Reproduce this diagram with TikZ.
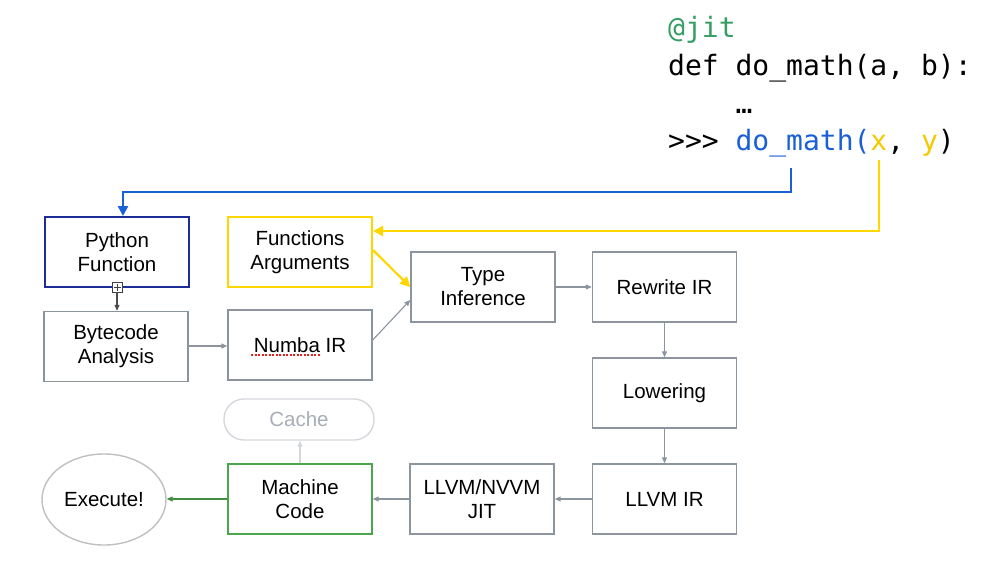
\documentclass[tikz,border=0pt]{standalone}
\usepackage{fontspec}
\setmainfont{Liberation Sans}
\newfontfamily\codefont{DejaVu Sans Mono}
\usetikzlibrary{arrows.meta,shapes.geometric}
\definecolor{codegreen}{RGB}{52,158,100}
\definecolor{codeblue}{RGB}{26,95,214}
\definecolor{codeyellow}{RGB}{245,200,0}
\definecolor{arryellow}{RGB}{255,214,0}
\definecolor{pyblue}{RGB}{28,46,150}
\definecolor{boxgray}{RGB}{140,148,158}
\definecolor{mcgreen}{RGB}{76,166,76}
\definecolor{cacheline}{RGB}{212,215,219}
\definecolor{cachetext}{RGB}{168,174,182}
\definecolor{execgray}{RGB}{192,192,192}
\definecolor{spellred}{RGB}{230,30,30}
\tikzset{
  stagebox/.style={draw=boxgray, line width=1.4pt, minimum width=144pt, minimum height=70pt,
    inner sep=0pt, align=center, font=\fontsize{20.5}{24}\selectfont},
  flow/.style={draw=boxgray, line width=1.1pt, -{Triangle[length=6pt,width=5pt]}},
  codeline/.style={anchor=base west, inner sep=0pt, font=\codefont\fontsize{28}{33}\selectfont}
}
\begin{document}
\begin{tikzpicture}[x=1pt,y=-1pt]
\useasboundingbox (0,0) rectangle (988,563);
% code
\node[codeline, text=codegreen] (l1) at (668,37) {@jit};
\node[codeline] (l2) at (668,75) {def do\_math(a, b):};
\node[codeline] (l3) at (668,113) {\phantom{def }…};
\node[codeline] (l4) at (668,150) {>{}>{}> \textcolor{codeblue}{do\_math(}\textcolor{codeyellow}{x}, \textcolor{codeyellow}{y})};
\coordinate (bstart) at (791,168);
\coordinate (ystart) at (879,160);
% boxes
\node[stagebox, draw=pyblue, line width=2pt] (py) at (117,252) {Python\\Function};
\node[stagebox, draw=arryellow, line width=2pt] (args) at (300,252) {Functions\\Arguments};
\node[stagebox] (byte) at (116,346.5) {Bytecode\\Analysis};
\node[stagebox] (numba) at (300,345) {Numba IR};
\node[stagebox] (type) at (483,287) {Type\\Inference};
\node[stagebox] (rewrite) at (664.5,287) {Rewrite IR};
\node[stagebox] (lower) at (664.5,393) {Lowering};
\node[stagebox] (llvmir) at (664.5,499) {LLVM IR};
\node[stagebox] (jit) at (482,499) {LLVM/NVVM\\JIT};
\node[stagebox, draw=mcgreen] (mc) at (300,499) {Machine\\Code};
\node[draw=cacheline, line width=1.4pt, rounded corners=20pt, minimum width=150pt, minimum height=41pt,
  inner sep=0pt, text=cachetext, font=\fontsize{20.5}{24}\selectfont] (cache) at (299,419.5) {Cache};
\node[ellipse, draw=execgray, line width=1.4pt, minimum width=124pt, minimum height=91pt, inner sep=0pt,
  font=\fontsize{20.5}{24}\selectfont] (exec) at (104,499.5) {Execute!};
% spell-check squiggle under "Numba"
\draw[spellred, line width=1.2pt, dash pattern=on 2pt off 1.5pt] ([xshift=-49pt,yshift=-10pt]numba.center) -- ([xshift=21pt,yshift=-10pt]numba.center);
% code arrows
\draw[codeblue, line width=2.4pt, -{Triangle[length=10pt,width=10pt]}] (bstart) |- (123,192) -- (py.north -| 123,0);
\draw[arryellow, line width=2.2pt, -{Triangle[length=10pt,width=10pt]}] (ystart) |- (args.east |- 0,231);
\draw[arryellow, line width=2.2pt, -{Triangle[length=10pt,width=10pt]}] (args.east |- 0,250) -- (type.west |- 0,287);
% small handle on python function
\node[draw=black!75, fill=white, line width=0.8pt, minimum size=10pt, inner sep=0pt] (handle) at (117,287) {};
\draw[black!75, line width=0.8pt] ([xshift=-3.5pt]handle.center) -- ([xshift=3.5pt]handle.center)
  ([yshift=-3.5pt]handle.center) -- ([yshift=3.5pt]handle.center);
% flow arrows
\draw[flow, draw=black!70] (handle.south) -- (byte.north -| handle.south);
\draw[flow] (byte.east |- 0,346) -- (numba.west |- 0,346);
\draw[flow] (numba.east |- 0,340) -- (type.west |- 0,300);
\draw[flow] (type.east) -- (rewrite.west);
\draw[flow] (rewrite.south) -- (lower.north);
\draw[flow] (lower.south) -- (llvmir.north);
\draw[flow] (llvmir.west) -- (jit.east);
\draw[flow] (jit.west) -- (mc.east);
\draw[flow, draw=mcgreen!85!black] (mc.west) -- (exec.east |- mc.west);
\draw[flow, draw=cacheline] (mc.north) -- (cache.south -| mc.north);
\end{tikzpicture}
\end{document}
